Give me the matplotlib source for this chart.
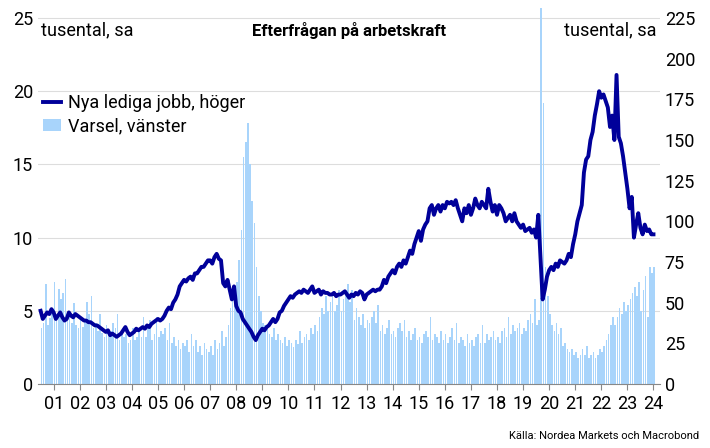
import matplotlib.pyplot as plt
import numpy as np

plt.rcParams['font.family'] = ['Roboto', 'DejaVu Sans']

# Monthly values, Jan 2001 onwards (thousands)
varsel = [
  # 2001
  3.8, 4.2, 6.8, 4.0, 4.5, 5.2, 7.0, 4.4, 6.5, 5.8, 6.2, 7.2,
  # 2002
  4.5, 4.8, 4.2, 5.5, 4.0, 3.8, 4.6, 3.9, 4.4, 5.6, 4.8, 6.0,
  # 2003
  3.8, 4.2, 3.6, 4.8, 3.5, 3.2, 4.0, 3.4, 3.6, 4.2, 3.8, 4.8,
  # 2004
  3.0, 3.6, 3.2, 3.4, 2.8, 3.0, 3.8, 3.0, 3.2, 3.6, 3.2, 4.6,
  # 2005
  3.2, 3.8, 4.4, 3.0, 3.4, 4.6, 3.2, 3.6, 3.4, 3.8, 3.0, 4.2,
  # 2006
  2.8, 3.2, 2.6, 3.0, 2.4, 2.8, 2.6, 3.0, 2.2, 3.4, 2.6, 3.0,
  # 2007
  2.2, 2.6, 2.0, 2.8, 2.4, 2.2, 2.6, 2.0, 3.0, 2.4, 2.8, 3.6,
  # 2008
  2.6, 3.2, 4.0, 5.2, 5.8, 6.5, 7.0, 8.5, 10.5, 15.5, 16.5, 17.8,
  # 2009
  15.0, 12.5, 11.0, 8.0, 6.0, 5.0, 4.2, 4.0, 3.8, 3.4, 3.2, 3.8,
  # 2010
  3.0, 3.4, 3.0, 2.8, 3.2, 2.6, 3.0, 2.8, 2.5, 3.0, 2.7, 3.6,
  # 2011
  2.8, 3.2, 3.4, 3.0, 3.8, 3.4, 4.0, 3.6, 4.6, 5.2, 4.8, 6.0,
  # 2012
  5.0, 5.6, 6.2, 5.0, 5.4, 6.4, 5.0, 5.8, 6.2, 6.8, 5.6, 6.4,
  # 2013
  4.4, 5.2, 4.6, 4.0, 4.8, 3.8, 4.4, 4.2, 4.6, 5.0, 4.2, 5.4,
  # 2014
  3.6, 4.0, 3.4, 3.8, 4.4, 3.4, 3.6, 3.2, 3.8, 4.2, 3.6, 4.4,
  # 2015
  3.2, 3.6, 3.0, 3.4, 3.8, 3.0, 3.2, 2.8, 3.4, 3.6, 3.2, 4.6,
  # 2016
  3.0, 3.4, 3.2, 2.8, 3.6, 3.0, 3.4, 2.8, 3.2, 3.8, 3.0, 4.2,
  # 2017
  2.8, 3.2, 3.0, 2.6, 3.4, 2.8, 3.0, 2.6, 3.2, 3.4, 2.8, 4.0,
  # 2018
  2.8, 3.4, 3.0, 3.2, 3.6, 3.0, 3.2, 2.8, 3.6, 3.8, 3.2, 4.6,
  # 2019
  3.4, 4.0, 3.6, 3.8, 4.2, 3.4, 3.8, 3.6, 4.4, 4.8, 4.2, 5.8,
  # 2020
  4.0, 4.4, 25.8, 19.2, 8.0, 6.0, 4.8, 4.0, 3.6, 4.2, 3.4, 3.8,
  # 2021
  2.6, 2.8, 2.4, 2.2, 2.4, 2.0, 2.2, 1.8, 2.0, 2.4, 2.0, 2.6,
  # 2022
  1.8, 2.0, 2.2, 1.8, 2.0, 2.4, 2.2, 2.6, 3.0, 3.4, 4.0, 4.6,
  # 2023
  4.0, 4.6, 5.2, 4.8, 5.6, 5.0, 5.4, 5.8, 6.2, 6.6, 6.0, 7.0,
  # 2024
  5.0, 6.4, 7.4, 4.6, 8.0, 7.6, 8.0,
]

lediga = [
  # 2001
  45, 40, 42, 44, 43, 46, 44, 40, 42, 44, 41, 39,
  # 2002
  40, 44, 42, 41, 43, 42, 41, 40, 39, 39, 38, 38,
  # 2003
  37, 36, 36, 35, 34, 33, 32, 33, 30, 31, 30, 29,
  # 2004
  30, 31, 33, 35, 32, 30, 31, 32, 34, 33, 34, 35,
  # 2005
  34, 36, 35, 37, 38, 39, 40, 39, 40, 42, 45, 47,
  # 2006
  46, 50, 52, 55, 60, 62, 64, 63, 65, 66, 64, 68,
  # 2007
  68, 70, 72, 72, 74, 76, 76, 74, 78, 80, 77, 76,
  # 2008
  62, 60, 64, 58, 52, 60, 48, 45, 44, 40, 38, 36,
  # 2009
  34, 32, 29, 27, 30, 32, 34, 33, 35, 36, 38, 40,
  # 2010
  38, 40, 44, 45, 48, 50, 52, 54, 53, 55, 56, 57,
  # 2011
  56, 58, 57, 56, 58, 60, 56, 57, 58, 55, 57, 56,
  # 2012
  56, 55, 55, 56, 54, 55, 55, 56, 57, 55, 53, 55,
  # 2013
  54, 56, 55, 57, 56, 52, 55, 56, 57, 58, 57, 58,
  # 2014
  58, 60, 64, 62, 66, 68, 70, 68, 72, 74, 72, 76,
  # 2015
  74, 78, 82, 80, 86, 90, 94, 88, 95, 98, 100, 108,
  # 2016
  110, 104, 108, 110, 106, 110, 108, 112, 111, 112, 110, 113,
  # 2017
  108, 104, 100, 108, 105, 110, 104, 108, 114, 110, 108, 112,
  # 2018
  110, 108, 120, 112, 106, 110, 104, 110, 108, 105, 100, 102,
  # 2019
  104, 100, 105, 100, 98, 96, 98, 94, 95, 96, 93, 95,
  # 2020
  90, 104, 78, 52, 58, 66, 70, 72, 70, 74, 72, 76,
  # 2021
  75, 74, 76, 80, 78, 86, 92, 100, 105, 110, 130, 138,
  # 2022
  140, 150, 155, 165, 172, 180, 176, 178, 174, 170, 158, 165,
  # 2023
  150, 190, 152, 148, 140, 130, 120, 108, 115, 90, 98, 105,
  # 2024
  96, 92, 98, 94, 95, 92, 92,
]

n = len(lediga)
x = 2001 + np.arange(n) / 12.0
xb = 2001 + np.arange(len(varsel)) / 12.0

fig = plt.figure(figsize=(7.1, 4.48), dpi=100)
ax = fig.add_axes([38/710, 64/448, 622/710, 376/448])
ax2 = ax.twinx()

ax.bar(xb, varsel, width=1/12*0.75, color="#a8d4fb", label="Varsel, vänster", align="edge")
ax2.plot(x, lediga, color="#00009a", lw=2.8, label="Nya lediga jobb, höger")

ax.set_ylim(0, 376/14.64)
ax2.set_ylim(0, 376/14.64*9)
ax.set_yticks(range(0, 26, 5))
ax2.set_yticks(range(0, 226, 25))
ax.set_xlim(2000.9, 2024.75)
ax.set_xticks([y + 0.5 for y in range(2001, 2025)])
ax.set_xticklabels(["{:02d}".format(y % 100) for y in range(2001, 2025)])
ax.grid(axis="y", color="#dddddd", lw=0.8)
ax.set_axisbelow(True)

for a in (ax, ax2):
  for s in a.spines.values():
    s.set_visible(False)
  a.tick_params(length=0, labelsize=13)
ax.spines["bottom"].set_visible(True)
ax.spines["bottom"].set_color("#888888")
ax.tick_params(axis="x", length=4, color="#888888", pad=4)

ax.text(0.005, 0.94, "tusental, sa", transform=ax.transAxes, fontsize=13, va="center")
ax2.text(0.995, 0.94, "tusental, sa", transform=ax.transAxes, fontsize=13, va="center", ha="right")
ax.text(0.5, 0.94, "Efterfrågan på arbetskraft", transform=ax.transAxes, fontsize=12, fontweight="bold", va="center", ha="center")

h1, l1 = ax2.get_legend_handles_labels()
h2, l2 = ax.get_legend_handles_labels()
ax.legend(h1 + h2, l1 + l2, loc="upper left", bbox_to_anchor=(-0.01, 0.8), frameon=False, fontsize=13, handlelength=1.0, handletextpad=0.4, borderaxespad=0.2, labelspacing=0.3)

fig.text(0.985, 0.02, "Källa: Nordea Markets och Macrobond", ha="right", fontsize=8)

fig.savefig("out.png", dpi=100)
